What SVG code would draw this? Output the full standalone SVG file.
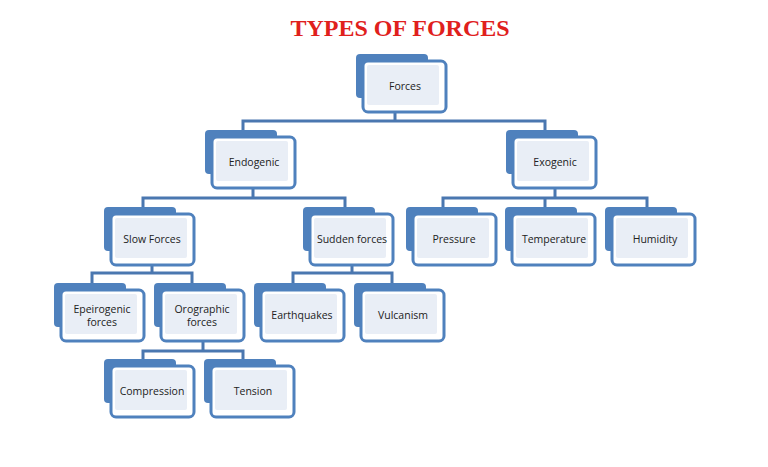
<svg xmlns="http://www.w3.org/2000/svg" width="768" height="467" viewBox="0 0 768 467">
<style>
.b{fill:#4f81bd}
.f{fill:#fff;stroke:#4f81bd;stroke-width:3}
.i{fill:#e9eef6}
text{font-family:"Open Sans","Liberation Sans",sans-serif;font-size:10.5px;fill:#222;text-anchor:middle}
.c path{fill:none;stroke:#4a77b0;stroke-width:3}
</style>
<defs>
<g id="n"><rect class="b" x="-7" y="-7" width="72" height="44" rx="4"/><rect class="f" x="0" y="0" width="83" height="51" rx="5"/><rect class="i" x="4" y="4" width="72" height="40" rx="2"/></g>
</defs>
<rect width="768" height="467" fill="#fff"/>
<text x="400" y="36" style="font-family:'Liberation Serif',serif;font-size:24px;font-weight:bold;fill:#e0201c">TYPES OF FORCES</text>
<g class="c">
<path d="M395 112V121M243 131V121H545V131"/>
<path d="M253 188V198M143 207V198H345V207"/>
<path d="M555 188V198M443 207V198H647V207M545 198V207"/>
<path d="M152 266V273M92 283V273H192V283"/>
<path d="M352 266V273M293 283V273H392V283"/>
<path d="M203 342V351M143 359V351H243V359"/>
</g>
<g id="forces"><use href="#n" x="363" y="61"/><text x="405" y="90">Forces</text></g>
<g id="endogenic"><use href="#n" x="212" y="137"/><text x="254" y="166">Endogenic</text></g>
<g id="exogenic"><use href="#n" x="513" y="137"/><text x="555" y="166">Exogenic</text></g>
<g id="slow"><use href="#n" x="111" y="214"/><text x="152" y="243">Slow Forces</text></g>
<g id="sudden"><use href="#n" x="310" y="214"/><text x="352" y="243">Sudden forces</text></g>
<g id="pressure"><use href="#n" x="413" y="214"/><text x="454" y="243">Pressure</text></g>
<g id="temperature"><use href="#n" x="512" y="214"/><text x="554" y="243">Temperature</text></g>
<g id="humidity"><use href="#n" x="612" y="214"/><text x="655" y="243">Humidity</text></g>
<g id="epeirogenic"><use href="#n" x="61" y="290"/><text x="102" y="313">Epeirogenic</text><text x="102" y="326">forces</text></g>
<g id="orographic"><use href="#n" x="161" y="290"/><text x="202" y="313">Orographic</text><text x="202" y="326">forces</text></g>
<g id="earthquakes"><use href="#n" x="261" y="290"/><text x="302" y="319">Earthquakes</text></g>
<g id="vulcanism"><use href="#n" x="361" y="290"/><text x="403" y="319">Vulcanism</text></g>
<g id="compression"><use href="#n" x="111" y="366"/><text x="152" y="395">Compression</text></g>
<g id="tension"><use href="#n" x="211" y="366"/><text x="253" y="395">Tension</text></g>
</svg>
